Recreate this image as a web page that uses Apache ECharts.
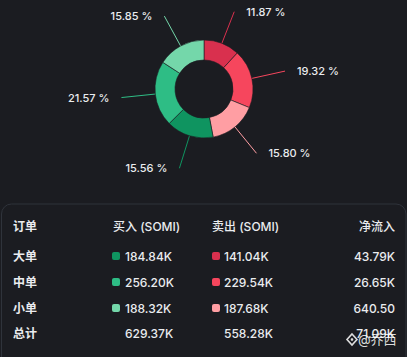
<!DOCTYPE html>
<html>
<head>
<meta charset="utf-8">
<script src="https://cdn.jsdelivr.net/npm/echarts@6/dist/echarts.min.js"></script>
<style>
html,body{margin:0;padding:0;background:#1b1c21;}
#c{width:407px;height:357px;}
</style>
</head>
<body>
<div id="c"></div>
<script>
// ---- data ----
var rowLabels = ['大单', '中单', '小单', '总计'];
var headers = ['订单', '买入 (SOMI)', '卖出 (SOMI)', '净流入'];
var buyValues = ['184.84K', '256.20K', '188.32K', '629.37K'];
var sellValues = ['141.04K', '229.54K', '187.68K', '558.28K'];
var netValues = ['43.79K', '26.65K', '640.50', '71.09K'];
var sliceNames = ['卖出大单', '卖出中单', '卖出小单', '买入大单', '买入中单', '买入小单'];
var slicePercents = [11.87, 19.32, 15.80, 15.56, 21.57, 15.85];
var buyColors = ['#0f9460', '#2ebd85', '#74d7aa'];
var sellColors = ['#d9304e', '#f6465d', '#ff9ea3'];
var watermark = '@乔西';

var BG = '#1b1c21';
var TXT = '#eaecef';
var FONT = 'Inter, "Noto Sans CJK SC", sans-serif';
var sliceColors = sellColors.concat(buyColors);

var pieData = slicePercents.map(function (v, i) {
  return { name: sliceNames[i], value: v, itemStyle: { color: sliceColors[i] } };
});

var graphics = [];
graphics.push({
  type: 'rect', left: 1, top: 203.5,
  shape: { x: 0, y: 0, width: 404.5, height: 180, r: 10 },
  style: { fill: BG, stroke: '#2f333b', lineWidth: 1 },
  z: 0
});
var colX = [13, 113, 212, 395];
var rowY = [226, 256, 282, 308, 333];
function txt(x, y, s, opt) {
  opt = opt || {};
  graphics.push({
    type: 'text', x: x, y: y, z: 2,
    style: {
      text: s, fill: opt.fill || TXT, font: (opt.weight || 'normal') + ' ' + (opt.size || 12) + 'px ' + FONT,
      align: opt.align || 'left', verticalAlign: 'middle', opacity: opt.opacity == null ? 1 : opt.opacity
    }
  });
}
headers.forEach(function (h, i) {
  txt(colX[i], rowY[0], h, { weight: i === 0 ? 'bold' : 500, align: i === 3 ? 'right' : 'left', fill: TXT });
});
rowLabels.forEach(function (r, i) {
  var y = rowY[i + 1];
  txt(colX[0], y, r, { weight: 'bold' });
  if (i < 3) {
    graphics.push({ type: 'rect', x: 112, y: y - 4, z: 2, shape: { x: 0, y: 0, width: 8, height: 8, r: 2 }, style: { fill: buyColors[i] } });
    graphics.push({ type: 'rect', x: 212, y: y - 4, z: 2, shape: { x: 0, y: 0, width: 8, height: 8, r: 2 }, style: { fill: sellColors[i] } });
  }
  txt(125, y, buyValues[i], { weight: 500 });
  txt(224, y, sellValues[i], { weight: 500 });
  txt(colX[3], y, netValues[i], { align: 'right', weight: 500 });
});
// watermark logo (diamond) + text
graphics.push({
  type: 'polygon', z: 3,
  shape: { points: [[352, 334], [357, 339.5], [352, 345], [347, 339.5]] },
  style: { fill: 'none', stroke: '#ffffff', lineWidth: 1.6, opacity: 0.85 }
});
graphics.push({
  type: 'circle', z: 3, shape: { cx: 352, cy: 339.5, r: 1.3 },
  style: { fill: '#ffffff', opacity: 0.85 }
});
txt(358, 339, watermark, { size: 13, fill: '#ffffff', opacity: 0.85 });

var chart = echarts.init(document.getElementById('c'), null, { renderer: 'svg' });
chart.setOption({
  backgroundColor: BG,
  animation: false,
  series: [{
    type: 'pie',
    center: [204, 89],
    radius: [29, 49],
    startAngle: 90,
    clockwise: true,
    avoidLabelOverlap: false,
    itemStyle: { borderColor: BG, borderWidth: 0.6 },
    label: {
      show: true, position: 'outside', color: TXT, fontSize: 11, fontWeight: 500, fontFamily: FONT,
      distanceToLabelLine: 12,
      formatter: function (p) { return p.value.toFixed(2) + ' %'; }
    },
    labelLine: { show: true, length: 34, length2: 0, smooth: false, lineStyle: { width: 1 } },
    emphasis: { disabled: true },
    data: pieData
  }],
  graphic: graphics
});
</script>
</body>
</html>
